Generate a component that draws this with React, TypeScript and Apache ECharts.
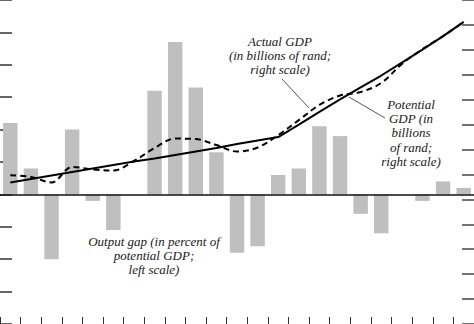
import React, { useEffect, useRef } from "react";
import * as echarts from "echarts";

const categories: string[] = Array.from({ length: 23 }, (_, i) => String(1980 + i));

// Output gap (percent of potential GDP, left scale)
const outputGap: number[] = [
  2.2, 0.8, -2.0, 2.0, -0.2, -1.1, 0, 3.2, 4.7, 3.3, 1.3, -1.8, -1.6,
  0.6, 0.8, 2.1, 1.8, -0.6, -1.2, 0, -0.2, 0.4, 0.2,
];

// Potential GDP (billions of rand, right scale)
const potentialGDP: number[] = [
  568, 582, 596, 610, 624, 638, 652, 664, 678, 692, 706, 722, 736,
  750, 800, 851, 901, 949, 997, 1049, 1101, 1155, 1212,
];

// Actual GDP (billions of rand, right scale)
const actualGDP: number[] = [
  597, 590, 568, 630, 620, 616, 654, 706, 744, 742, 718, 692, 708,
  758, 818, 879, 917, 931, 967, 1043, 1103, 1155, 1212,
];

const labelActual = "Actual GDP\n(in billions of rand;\nright scale)";
const labelPotential = "Potential\nGDP (in\nbillions\nof rand;\nright scale)";
const labelGap = "Output gap (in percent of\npotential GDP;\nleft scale)";

export default function App() {
  const ref = useRef<HTMLDivElement>(null);

  useEffect(() => {
    document.body.style.margin = "0";
    if (!ref.current) return;
    const chart = echarts.init(ref.current, undefined, { renderer: "svg" });
    const font = {
      fontSize: 13,
      fontFamily: "Liberation Serif",
      fontStyle: "italic",
      fill: "#1a1a1a",
      align: "center",
      verticalAlign: "top",
    };
    chart.setOption({
      animation: false,
      backgroundColor: "#ffffff",
      grid: { left: 0, right: 0, top: 0, bottom: 0, containLabel: false },
      xAxis: {
        type: "category",
        data: categories,
        boundaryGap: true,
        axisLine: { show: false, onZero: false },
        axisTick: {
          show: true,
          inside: true,
          length: 7,
          interval: 0,
          lineStyle: { color: "#333", width: 1 },
        },
        axisLabel: { show: false },
        splitLine: { show: false },
      },
      yAxis: [
        {
          type: "value",
          position: "left",
          min: -4,
          max: 6,
          interval: 1,
          axisLine: { show: false },
          axisTick: { show: true, inside: true, length: 12, lineStyle: { color: "#333", width: 1.5 } },
          axisLabel: { show: false },
          splitLine: { show: false },
        },
        {
          type: "value",
          position: "right",
          min: 0,
          max: 1300,
          interval: 100,
          axisLine: { show: false },
          axisTick: { show: true, inside: true, length: 12, lineStyle: { color: "#444", width: 1.5 } },
          axisLabel: { show: false },
          splitLine: { show: false },
        },
      ],
      series: [
        {
          type: "bar",
          data: outputGap,
          yAxisIndex: 0,
          barWidth: "70%",
          itemStyle: { color: "#bfbfbf" },
          markLine: {
            silent: true,
            symbol: "none",
            label: { show: false },
            lineStyle: { color: "#111", width: 1.5, type: "solid" },
            data: [{ yAxis: 0 }],
          },
          z: 1,
        },
        {
          type: "line",
          data: potentialGDP,
          yAxisIndex: 1,
          symbol: "none",
          smooth: false,
          lineStyle: { color: "#000", width: 2 },
          z: 3,
        },
        {
          type: "line",
          data: actualGDP,
          yAxisIndex: 1,
          symbol: "none",
          smooth: 0.35,
          lineStyle: { color: "#000", width: 2, type: [6, 4] },
          z: 3,
        },
      ],
      graphic: [
        { type: "text", x: 280, y: 34, style: { ...font, text: labelActual, lineHeight: 14.3 } },
        { type: "text", x: 411, y: 97, style: { ...font, text: labelPotential, lineHeight: 14.3 } },
        { type: "text", x: 154, y: 235, style: { ...font, text: labelGap, lineHeight: 13.6 } },
        {
          type: "line",
          shape: { x1: 282, y1: 79, x2: 309, y2: 108 },
          style: { stroke: "#555", lineWidth: 1 },
        },
        {
          type: "line",
          shape: { x1: 349, y1: 97, x2: 385, y2: 118 },
          style: { stroke: "#555", lineWidth: 1 },
        },
      ],
    });
    return () => chart.dispose();
  }, []);

  return <div ref={ref} style={{ width: 474, height: 324 }} />;
}
